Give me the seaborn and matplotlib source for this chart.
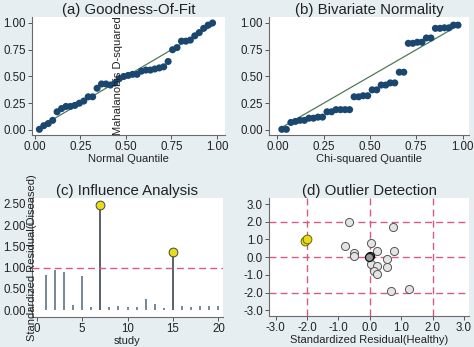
import numpy as np
import pandas as pd
import matplotlib
matplotlib.use("Agg")
import matplotlib.pyplot as plt
import seaborn as sns

# ---------------- data ----------------
n_pts = 40
quantile_x = [(i + 1) / (n_pts + 1) for i in range(n_pts)]

gof_y = [0.006, 0.04, 0.06, 0.09, 0.17, 0.20, 0.22, 0.22, 0.23, 0.25,
         0.27, 0.31, 0.31, 0.39, 0.43, 0.43, 0.42, 0.44, 0.48, 0.50,
         0.51, 0.52, 0.52, 0.55, 0.56, 0.56, 0.57, 0.58, 0.59, 0.64,
         0.75, 0.77, 0.83, 0.83, 0.84, 0.88, 0.91, 0.95, 0.98, 1.00]

biv_y = [0.006, 0.006, 0.07, 0.08, 0.09, 0.09, 0.11, 0.11, 0.12, 0.12,
         0.17, 0.17, 0.19, 0.19, 0.19, 0.19, 0.31, 0.31, 0.32, 0.32,
         0.375, 0.375, 0.42, 0.42, 0.44, 0.44, 0.54, 0.54, 0.81, 0.81,
         0.82, 0.82, 0.86, 0.86, 0.95, 0.95, 0.955, 0.955, 0.98, 0.98]

study = list(range(1, 21))
influence = [0.84, 0.95, 0.89, 0.12, 0.80, 0.08, 2.47, 0.08, 0.10, 0.07,
             0.07, 0.26, 0.14, 0.06, 1.38, 0.10, 0.08, 0.09, 0.11, 0.09]
influence_threshold = 1.0

resid_healthy = [-2.05, -2.00, -0.65, 0.74, -0.79, 0.05, -0.49, -0.49, 0.24, 0.77,
                 0.00, -0.02, 0.56, 0.05, 0.22, 0.56, 0.12, 0.22, 0.66, 1.24]
resid_diseased = [0.91, 1.03, 1.98, 1.71, 0.62, 0.82, 0.23, 0.04, 0.35, 0.33,
                  0.08, 0.00, -0.08, -0.39, -0.50, -0.58, -0.78, -0.97, -1.90, -1.81]
outlier_flag = ["yes", "yes"] + ["no"] * 18
dark_flag = [False] * 10 + [True, True] + [False] * 8
cut_lines = [-2.0, 0.0, 2.0]

diag = [0.024, 0.976]

# ---------------- style ----------------
BG = "#e6eef2"
NAVY = "#1a476f"
GREEN = "#4f7a55"
PINK = "#d45d7f"
YELLOW = "#e8dc1a"

sns.set_theme(style="white")
plt.rcParams["font.family"] = ["Liberation Sans", "DejaVu Sans"]
plt.rcParams["axes.edgecolor"] = "#555555"

fig = plt.figure(figsize=(4.74, 3.47), dpi=100, facecolor=BG)
W, H = 474, 347


def add_ax(l, r, t, b):
    return fig.add_axes([l / W, (H - b) / H, (r - l) / W, (b - t) / H])


TKS = 8.3
LFS = 8.0
TFS = 10.8


def style(ax):
    ax.set_facecolor("white")
    for s in ["top", "right"]:
        ax.spines[s].set_visible(False)
    for s in ["left", "bottom"]:
        ax.spines[s].set_color("#6b6b6b")
        ax.spines[s].set_linewidth(0.8)
    ax.tick_params(axis="both", which="both", length=3, width=0.7, color="#555555",
                   labelsize=TKS, pad=1.5, labelcolor="#222222",
                   bottom=True, left=True)


# ---------- (a) ----------
ax = add_ax(32, 225, 17, 135)
style(ax)
dfa = pd.DataFrame({"x": quantile_x, "y": gof_y})
sns.lineplot(x=diag, y=diag, ax=ax, color=GREEN, lw=0.9)
sns.scatterplot(data=dfa, x="x", y="y", ax=ax, color=NAVY, s=26, edgecolor="none", zorder=3)
ax.set_xlim(-0.016, 1.044)
ax.set_ylim(-0.047, 1.056)
ax.set_xticks([0, 0.25, 0.5, 0.75, 1.0])
ax.set_yticks([0, 0.25, 0.5, 0.75, 1.0])
ax.set_xticklabels(["0.00", "0.25", "0.50", "0.75", "1.00"])
ax.set_yticklabels(["0.00", "0.25", "0.50", "0.75", "1.00"])
ax.set_xlabel("Normal Quantile", fontsize=LFS, labelpad=0.5, color="#222222")
ax.set_ylabel("")
ax.text(0.445, 0.5, "Mahalanobis D-squared", rotation=90, fontsize=LFS, color="#222222",
        ha="center", va="center", transform=ax.transAxes, zorder=4)
ax.set_title("(a) Goodness-Of-Fit", fontsize=TFS, pad=1.5, color="#222222")

# ---------- (b) ----------
ax = add_ax(269, 469, 17, 135)
style(ax)
dfb = pd.DataFrame({"x": quantile_x, "y": biv_y})
sns.lineplot(x=diag, y=diag, ax=ax, color=GREEN, lw=0.9)
sns.scatterplot(data=dfb, x="x", y="y", ax=ax, color=NAVY, s=26, edgecolor="none", zorder=3)
ax.set_xlim(-0.045, 1.035)
ax.set_ylim(-0.047, 1.056)
ax.set_xticks([0, 0.25, 0.5, 0.75, 1.0])
ax.set_yticks([0, 0.25, 0.5, 0.75, 1.0])
ax.set_xticklabels(["0.00", "0.25", "0.50", "0.75", "1.00"])
ax.set_yticklabels(["0.00", "0.25", "0.50", "0.75", "1.00"])
ax.set_xlabel("Chi-squared Quantile", fontsize=LFS, labelpad=0.5, color="#222222")
ax.set_ylabel("")
ax.set_title("(b) Bivariate Normality", fontsize=TFS, pad=1.5, color="#222222")

# ---------- (c) ----------
ax = add_ax(32, 223, 198, 317)
style(ax)
dfc = pd.DataFrame({"study": study, "infl": influence})
big = dfc[dfc["infl"] > influence_threshold]
small = dfc[dfc["infl"] <= influence_threshold]
ax.vlines(small["study"], 0, small["infl"], color="#5f7388", lw=1.2)
ax.vlines(big["study"], 0, big["infl"], color="#3d4650", lw=1.2)
ax.axhline(influence_threshold, color=PINK, lw=1.0, ls=(0, (5, 3)))
sns.scatterplot(data=big, x="study", y="infl", ax=ax, color=YELLOW, s=40,
                edgecolor="#444444", linewidth=0.7, zorder=4)
ax.set_xlim(-0.5, 20.5)
ax.set_ylim(-0.16, 2.64)
ax.set_xticks([0, 5, 10, 15, 20])
ax.set_yticks([0, 0.5, 1.0, 1.5, 2.0, 2.5])
ax.set_yticklabels(["0.00", "0.50", "1.00", "1.50", "2.00", "2.50"])
ax.set_xlabel("study", fontsize=LFS, labelpad=0.5, color="#222222")
ax.set_ylabel("")
fig.text(32 / W, 1 - 258 / H, "Standardized Residual(Diseased)", rotation=90,
         fontsize=LFS, color="#222222", ha="center", va="center")
ax.set_title("(c) Influence Analysis", fontsize=TFS, pad=1.5, color="#222222")

# ---------- (d) ----------
ax = add_ax(269, 469, 198, 316)
style(ax)
for v in cut_lines:
    ax.axvline(v, color=PINK, lw=1.0, ls=(0, (5, 3)), zorder=1)
    ax.axhline(v, color=PINK, lw=1.0, ls=(0, (5, 3)), zorder=1)
dfd = pd.DataFrame({"h": resid_healthy, "d": resid_diseased, "out": outlier_flag,
                    "dark": dark_flag})
normal = dfd[(dfd["out"] == "no") & (~dfd["dark"])]
darkp = dfd[dfd["dark"]]
outl = dfd[dfd["out"] == "yes"]
sns.scatterplot(data=normal, x="h", y="d", ax=ax, color="#e4e4e4", s=34,
                edgecolor="#555555", linewidth=0.7, zorder=3)
sns.scatterplot(data=darkp, x="h", y="d", ax=ax, color="#9a9a9a", s=34,
                edgecolor="#111111", linewidth=0.9, zorder=3)
sns.scatterplot(data=outl, x="h", y="d", ax=ax, color=YELLOW, s=40,
                edgecolor="#666600", linewidth=0.7, zorder=4)
ax.set_xlim(-3.21, 3.16)
ax.set_ylim(-3.32, 3.34)
ticks = [-3, -2, -1, 0, 1, 2, 3]
ax.set_xticks(ticks)
ax.set_yticks(ticks)
ax.set_xticklabels([f"{t:.1f}" for t in ticks])
ax.set_yticklabels([f"{t:.1f}" for t in ticks])
ax.set_xlabel("Standardized Residual(Healthy)", fontsize=LFS, labelpad=0.5, color="#222222")
ax.set_ylabel("")
ax.set_title("(d) Outlier Detection", fontsize=TFS, pad=1.5, color="#222222")

fig.savefig("out.png", dpi=100, facecolor=BG)
